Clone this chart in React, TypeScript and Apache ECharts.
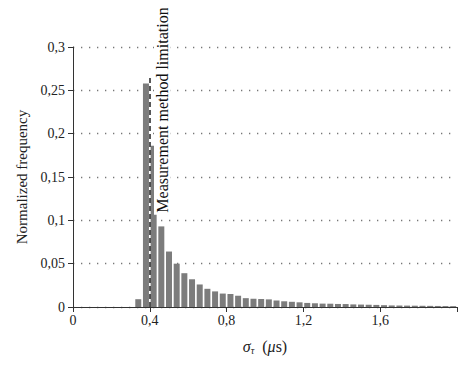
import React, { useEffect, useRef } from "react";
import * as echarts from "echarts";

const binCenters = [
  0.34, 0.38, 0.42, 0.46, 0.5, 0.54, 0.58, 0.62, 0.66, 0.7, 0.74, 0.78, 0.82, 0.86,
  0.9, 0.94, 0.98, 1.02, 1.06, 1.1, 1.14, 1.18, 1.22, 1.26, 1.3, 1.34, 1.38, 1.42,
  1.46, 1.5, 1.54, 1.58, 1.62, 1.66, 1.7, 1.74, 1.78, 1.82, 1.86, 1.9, 1.94, 1.98,
];
const frequencies = [
  0.009, 0.258, 0.186, 0.093, 0.064, 0.05, 0.039, 0.032, 0.026, 0.021, 0.018, 0.0155,
  0.015, 0.013, 0.0102, 0.0096, 0.0092, 0.0088, 0.0075, 0.0066, 0.006, 0.0054, 0.0047,
  0.0043, 0.0039, 0.0038, 0.0035, 0.0034, 0.003, 0.0028, 0.0026, 0.0024, 0.0021,
  0.0018, 0.0017, 0.0016, 0.0015, 0.0014, 0.0013, 0.0012, 0.0011, 0.001,
];
const limitX = 0.4;
const limitTop = 0.265;
const limitLabel = "Measurement method limitation";
const yAxisTitle = "Normalized frequency";

const FONT = "Liberation Serif";

function fmt(v: number, d: number) {
  if (v === 0) return "0";
  return String(+v.toFixed(d)).replace(".", ",");
}

export default function App() {
  const ref = useRef<HTMLDivElement>(null);
  useEffect(() => {
    if (!ref.current) return;
    const chart = echarts.init(ref.current, null, { renderer: "svg" });
    chart.setOption({
      animation: false,
      backgroundColor: "#ffffff",
      grid: { left: 73, right: 17, top: 47, bottom: 65 },
      xAxis: {
        type: "value",
        min: 0,
        max: 2,
        interval: 0.4,
        axisLine: { show: true, onZero: false, lineStyle: { color: "#333", width: 1 } },
        axisTick: { show: true, inside: false, length: 5, lineStyle: { color: "#333" } },
        axisLabel: {
          fontFamily: FONT,
          fontSize: 14,
          color: "#222",
          margin: 6,
          formatter: (v: number) => (v >= 1.99 ? "" : fmt(v, 1)),
        },
        splitLine: { show: false },
      },
      yAxis: {
        type: "value",
        min: 0,
        max: 0.3,
        interval: 0.05,
        name: yAxisTitle,
        nameLocation: "middle",
        nameGap: 44,
        nameRotate: 90,
        nameTextStyle: { fontFamily: FONT, fontSize: 15, color: "#222" },
        axisLine: { show: true, lineStyle: { color: "#333", width: 1 } },
        axisTick: { show: true, length: 5, lineStyle: { color: "#333" } },
        axisLabel: {
          fontFamily: FONT,
          fontSize: 14,
          color: "#222",
          margin: 8,
          formatter: (v: number) => fmt(v, 2),
        },
        splitLine: {
          show: true,
          lineStyle: { color: "#777", width: 1.3, type: [1.3, 6.7] },
        },
      },
      graphic: [
        {
          type: "text",
          x: 265,
          y: 346,
          style: {
            text: "{i|σ}{sub|τ}  {n|(}{i|μ}{n|s)}",
            align: "center",
            verticalAlign: "middle",
            fontFamily: FONT,
            fontSize: 16,
            fill: "#222",
            rich: {
              i: { fontFamily: FONT, fontStyle: "italic", fontSize: 16, fill: "#222" },
              sub: { fontFamily: FONT, fontStyle: "italic", fontSize: 10, fill: "#222", padding: [8, 0, 0, 0] },
              n: { fontFamily: FONT, fontSize: 16, fill: "#222" },
            },
          },
          z: 10,
        },
        {
          type: "text",
          x: 162,
          y: 110,
          rotation: Math.PI / 2,
          style: {
            text: limitLabel,
            align: "center",
            verticalAlign: "middle",
            fontFamily: FONT,
            fontSize: 16,
            fill: "#111",
            backgroundColor: "#ffffff",
            padding: [0, 2, 0, 2],
          },
          z: 10,
        },
      ],
      series: [
        {
          type: "bar",
          data: binCenters.map((x, i) => [x, frequencies[i]]),
          barWidth: 6,
          itemStyle: { color: "#7c7c7c" },
          markLine: {
            symbol: ["none", "none"],
            silent: true,
            label: { show: false },
            lineStyle: { color: "#222", width: 1.5, type: [5, 3] },
            data: [[{ coord: [limitX, 0] }, { coord: [limitX, limitTop] }]],
          },
        },
      ],
    });
    return () => chart.dispose();
  }, []);
  return <div ref={ref} style={{ width: 474, height: 372, margin: -8 }} />;
}
